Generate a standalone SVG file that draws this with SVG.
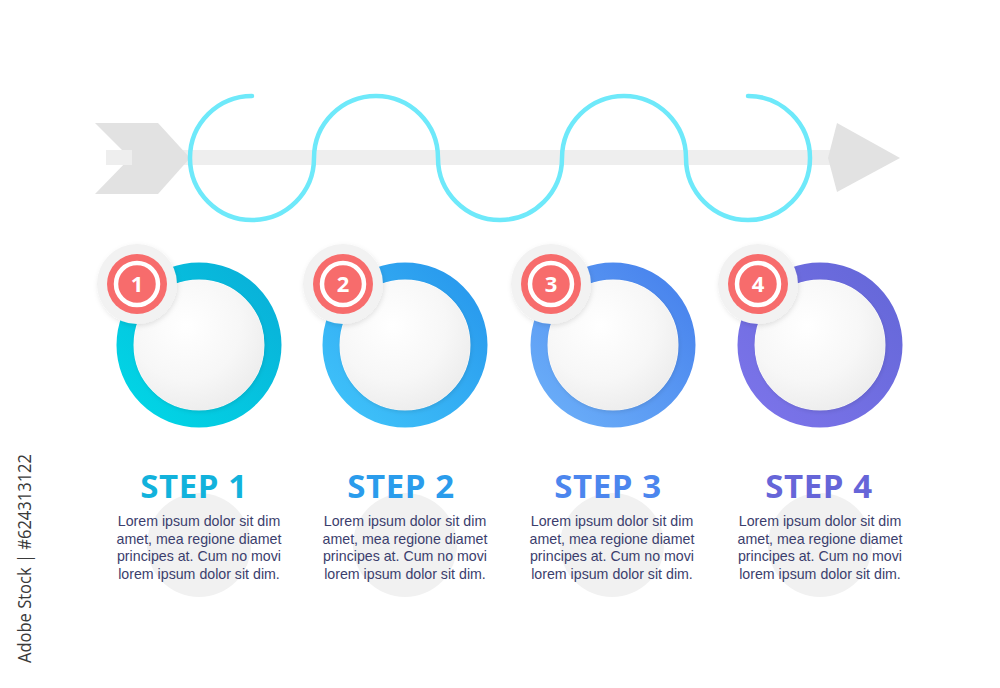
<svg xmlns="http://www.w3.org/2000/svg" width="1000" height="688" viewBox="0 0 1000 688">
  <defs>
    <linearGradient id="g1" x1="0" y1="1" x2="1" y2="0"><stop offset="0" stop-color="#00d8e6"/><stop offset="1" stop-color="#0aaed8"/></linearGradient>
    <linearGradient id="g2" x1="0" y1="1" x2="1" y2="0"><stop offset="0" stop-color="#40c4fa"/><stop offset="1" stop-color="#2796ec"/></linearGradient>
    <linearGradient id="g3" x1="0" y1="1" x2="1" y2="0"><stop offset="0" stop-color="#6cb0f9"/><stop offset="1" stop-color="#4680ec"/></linearGradient>
    <linearGradient id="g4" x1="0" y1="1" x2="1" y2="0"><stop offset="0" stop-color="#7c74ea"/><stop offset="1" stop-color="#6467d8"/></linearGradient>
    <radialGradient id="inner" cx="0.4" cy="0.35" r="0.7"><stop offset="0" stop-color="#ffffff"/><stop offset="0.6" stop-color="#f7f7f7"/><stop offset="1" stop-color="#ececec"/></radialGradient>
    <filter id="sh" x="-30%" y="-30%" width="160%" height="160%"><feDropShadow dx="1" dy="2" stdDeviation="2.5" flood-color="#000" flood-opacity="0.10"/></filter>
    <filter id="sh2" x="-30%" y="-30%" width="160%" height="160%"><feDropShadow dx="1" dy="2" stdDeviation="2" flood-color="#000" flood-opacity="0.10"/></filter>
  </defs>
  <style>
    .ring{stroke-width:17;fill:none}
    .innerc{fill:url(#inner);filter:url(#sh2)}
    .halo{fill:#f2f2f2;filter:url(#sh)}
    .bred{fill:#f76c6c}
    .bring{fill:none;stroke:#ffffff;stroke-width:4.5}
    .num{font-family:"Open Sans","DejaVu Sans",sans-serif;font-weight:700;font-size:22px;fill:#ffffff;text-anchor:middle}
    .step{font-family:"Open Sans","DejaVu Sans",sans-serif;font-weight:700;font-size:33px;text-anchor:middle;letter-spacing:0.6px}
    .body{font-family:"Liberation Sans","Arial",sans-serif;font-size:14.2px;fill:#3b3e6d;text-anchor:middle}
    .bg{fill:#f1f1f1}
  </style>
  <rect width="1000" height="688" fill="#ffffff"/>
  <g id="arrow">
    <rect x="106" y="150" width="730" height="15" fill="#eeeeee"/>
    <polygon points="95,123 158,123 190,158 158,194 95,194 130,158" fill="#e2e2e2"/>
    <rect x="106" y="150" width="26" height="15" fill="#eeeeee"/>
    <polygon points="837,123 900,158 837,192 828,158" fill="#e2e2e2"/>
  </g>
  <g id="connectors">
    <path d="M252,96 A62,62 0 1 0 314,158 A62,62 0 0 1 438,158 A62,62 0 0 0 562,158 A62,62 0 0 1 686,158 A62,62 0 1 0 748,96" fill="none" stroke="#6ee9fa" stroke-width="4.5" stroke-linecap="round"/>
  </g>
  <g id="step1">
    <circle class="bg" cx="199" cy="545" r="52"/>
    <circle class="ring" cx="199" cy="345" r="74" stroke="url(#g1)"/>
    <circle class="innerc" cx="199" cy="345" r="65"/>
    <circle class="halo" cx="137" cy="284" r="40"/>
    <circle class="bred" cx="137" cy="284" r="30"/>
    <circle class="bring" cx="137" cy="284" r="21"/>
    <text class="num" x="137" y="292">1</text>
    <text class="step" x="194" y="498" fill="#12b2dc">STEP 1</text>
    <text class="body" x="199" y="526">Lorem ipsum dolor sit dim</text>
    <text class="body" x="199" y="543.5">amet, mea regione diamet</text>
    <text class="body" x="199" y="561">principes at. Cum no movi</text>
    <text class="body" x="199" y="578.5">lorem ipsum dolor sit dim.</text>
  </g>
  <g id="step2">
    <circle class="bg" cx="405" cy="545" r="52"/>
    <circle class="ring" cx="405" cy="345" r="74" stroke="url(#g2)"/>
    <circle class="innerc" cx="405" cy="345" r="65"/>
    <circle class="halo" cx="343" cy="284" r="40"/>
    <circle class="bred" cx="343" cy="284" r="30"/>
    <circle class="bring" cx="343" cy="284" r="21"/>
    <text class="num" x="343" y="292">2</text>
    <text class="step" x="401" y="498" fill="#2a9cec">STEP 2</text>
    <text class="body" x="405" y="526">Lorem ipsum dolor sit dim</text>
    <text class="body" x="405" y="543.5">amet, mea regione diamet</text>
    <text class="body" x="405" y="561">principes at. Cum no movi</text>
    <text class="body" x="405" y="578.5">lorem ipsum dolor sit dim.</text>
  </g>
  <g id="step3">
    <circle class="bg" cx="612" cy="545" r="52"/>
    <circle class="ring" cx="613" cy="345" r="74" stroke="url(#g3)"/>
    <circle class="innerc" cx="613" cy="345" r="65"/>
    <circle class="halo" cx="551" cy="284" r="40"/>
    <circle class="bred" cx="551" cy="284" r="30"/>
    <circle class="bring" cx="551" cy="284" r="21"/>
    <text class="num" x="551" y="292">3</text>
    <text class="step" x="608" y="498" fill="#4c86ee">STEP 3</text>
    <text class="body" x="612" y="526">Lorem ipsum dolor sit dim</text>
    <text class="body" x="612" y="543.5">amet, mea regione diamet</text>
    <text class="body" x="612" y="561">principes at. Cum no movi</text>
    <text class="body" x="612" y="578.5">lorem ipsum dolor sit dim.</text>
  </g>
  <g id="step4">
    <circle class="bg" cx="820" cy="545" r="52"/>
    <circle class="ring" cx="820" cy="345" r="74" stroke="url(#g4)"/>
    <circle class="innerc" cx="820" cy="345" r="65"/>
    <circle class="halo" cx="758" cy="284" r="40"/>
    <circle class="bred" cx="758" cy="284" r="30"/>
    <circle class="bring" cx="758" cy="284" r="21"/>
    <text class="num" x="758" y="292">4</text>
    <text class="step" x="819" y="498" fill="#6665d8">STEP 4</text>
    <text class="body" x="820" y="526">Lorem ipsum dolor sit dim</text>
    <text class="body" x="820" y="543.5">amet, mea regione diamet</text>
    <text class="body" x="820" y="561">principes at. Cum no movi</text>
    <text class="body" x="820" y="578.5">lorem ipsum dolor sit dim.</text>
  </g>
  <text transform="translate(31,663) rotate(-90)" font-family="Open Sans, DejaVu Sans, sans-serif" font-size="18px" fill="#3a3a3a" textLength="209" lengthAdjust="spacingAndGlyphs">Adobe Stock | #624313122</text>
</svg>
